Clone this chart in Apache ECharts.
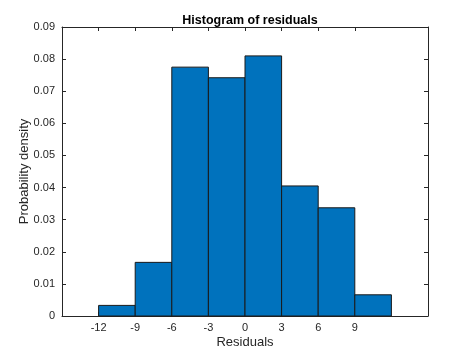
<!DOCTYPE html>
<html><head><meta charset="utf-8">
<script src="https://cdn.jsdelivr.net/npm/echarts@6/dist/echarts.min.js"></script>
<style>html,body{margin:0;padding:0;background:#fff}#c{width:474px;height:355px}</style>
</head><body><div id="c"></div>
<script>
const binEdges = [-12, -9, -6, -3, 0, 3, 6, 9, 12];
const density = [0.0033, 0.0167, 0.0775, 0.0742, 0.0810, 0.0405, 0.0337, 0.0066];
const xTicks = [-12, -9, -6, -3, 0, 3, 6, 9];
const yTicks = [0, 0.01, 0.02, 0.03, 0.04, 0.05, 0.06, 0.07, 0.08, 0.09];

const bins = density.map((d, i) => [binEdges[i], binEdges[i + 1], d]);
const FONT = 'Liberation Sans, Arial, sans-serif';
const AX = '#262626';

const chart = echarts.init(document.getElementById('c'), null, {renderer: 'canvas'});
chart.setOption({
  animation: false,
  backgroundColor: '#fff',
  title: {
    text: 'Histogram of residuals', left: 245, top: 9, textAlign: 'center',
    textStyle: {fontFamily: FONT, fontSize: 12.5, fontWeight: 'bold', color: '#000'}
  },
  grid: {left: 62, right: 46, top: 27, bottom: 39, containLabel: false},
  xAxis: [{
    type: 'value', min: -15, max: 15, interval: 3,
    name: 'Residuals', nameLocation: 'middle', nameGap: 20, nameMoveOverlap: false,
    nameTextStyle: {fontFamily: FONT, fontSize: 13, color: AX},
    axisLine: {show: true, onZero: false, lineStyle: {color: AX, width: 1}},
    axisTick: {show: true, inside: true, length: 4, customValues: xTicks, lineStyle: {color: AX}},
    axisLabel: {fontFamily: FONT, fontSize: 11, color: AX, margin: 6, customValues: xTicks},
    splitLine: {show: false}
  }, {
    type: 'value', position: 'top', min: -15, max: 15, interval: 3,
    axisLine: {show: true, onZero: false, lineStyle: {color: AX, width: 1}},
    axisTick: {show: true, inside: true, length: 4, customValues: xTicks, lineStyle: {color: AX}},
    axisLabel: {show: false},
    splitLine: {show: false}
  }],
  yAxis: [{
    type: 'value', min: 0, max: 0.09, interval: 0.01,
    name: 'Probability density', nameLocation: 'middle', nameGap: 31, nameMoveOverlap: false,
    nameTextStyle: {fontFamily: FONT, fontSize: 13, color: AX},
    axisLine: {show: true, onZero: false, lineStyle: {color: AX, width: 1}},
    axisTick: {show: true, inside: true, length: 4, lineStyle: {color: AX}},
    axisLabel: {fontFamily: FONT, fontSize: 11, color: AX, margin: 7,
      formatter: v => (Math.round(v * 100) / 100).toString()},
    splitLine: {show: false}
  }, {
    type: 'value', position: 'right', min: 0, max: 0.09, interval: 0.01,
    axisLine: {show: true, onZero: false, lineStyle: {color: AX, width: 1}},
    axisTick: {show: true, inside: true, length: 4, lineStyle: {color: AX}},
    axisLabel: {show: false},
    splitLine: {show: false}
  }],
  series: [{
    type: 'custom',
    xAxisIndex: 0, yAxisIndex: 0,
    data: bins,
    encode: {x: [0, 1], y: 2},
    renderItem: function (params, api) {
      const p0 = api.coord([api.value(0), 0]);
      const p1 = api.coord([api.value(1), api.value(2)]);
      return {
        type: 'rect',
        shape: {x: p0[0], y: p1[1], width: p1[0] - p0[0], height: p0[1] - p1[1]},
        style: {fill: '#0072BD', stroke: '#1a1a1a', lineWidth: 1}
      };
    }
  }]
});
</script></body></html>
